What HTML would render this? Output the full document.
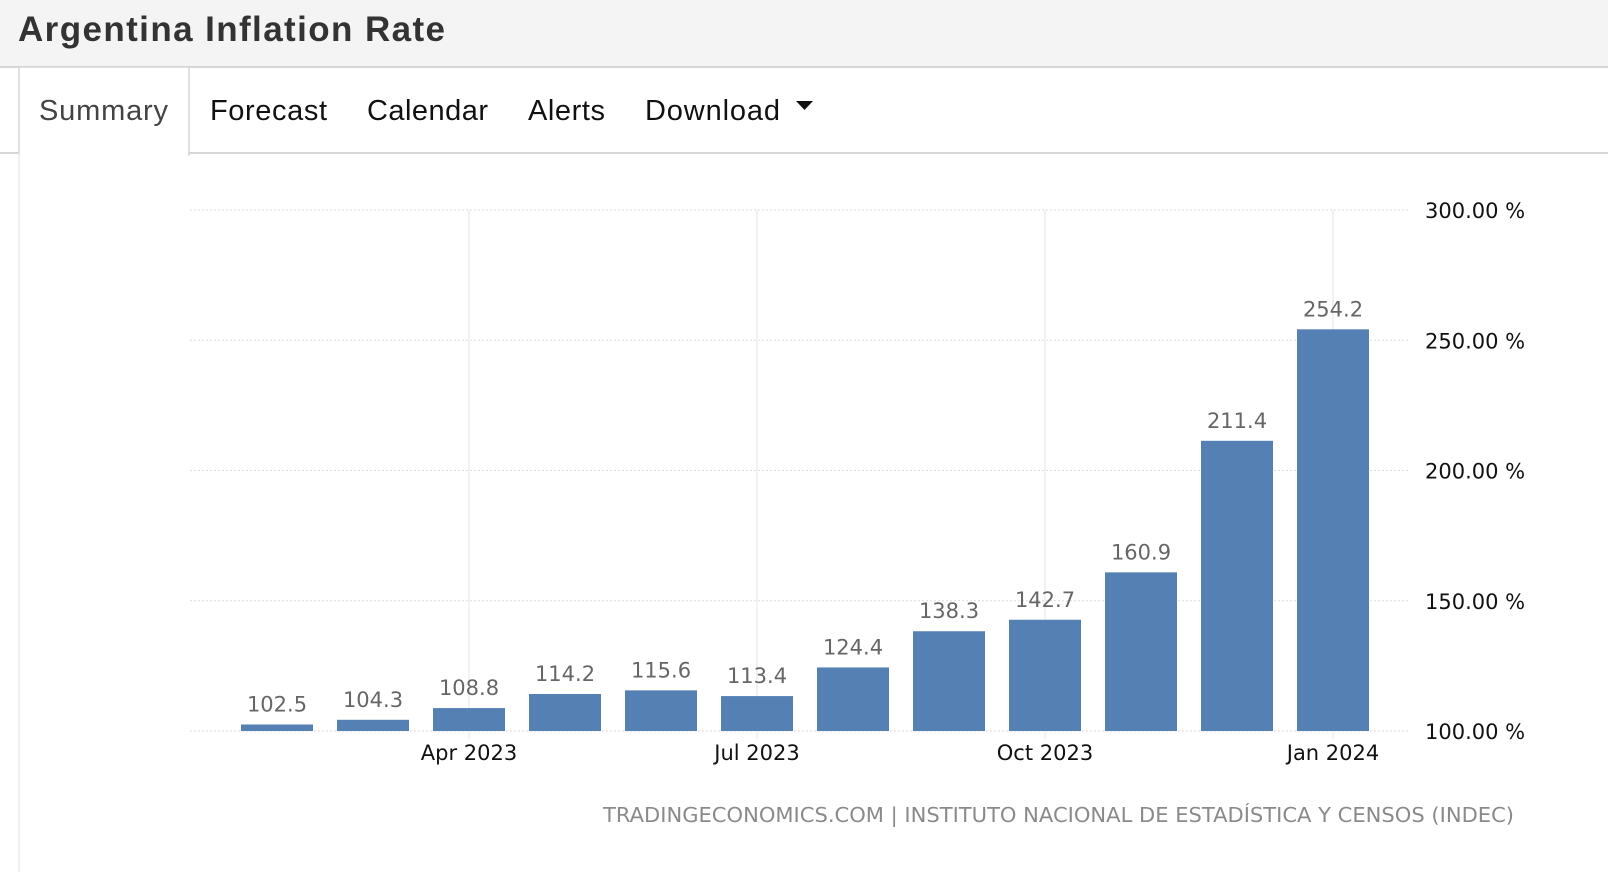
<!DOCTYPE html>
<html><head><meta charset="utf-8"><style>
html,body{margin:0;padding:0;width:1608px;height:872px;overflow:hidden;background:#fff;font-family:"Liberation Sans",sans-serif}
</style></head><body>
<svg width="1608" height="872" xmlns="http://www.w3.org/2000/svg">
<rect x="0" y="0" width="1608" height="67" fill="#f4f4f4"/>
<line x1="0" y1="67" x2="1608" y2="67" stroke="#d6d6d6" stroke-width="2"/>
<text x="18" y="41" font-family="Liberation Sans" font-weight="bold" font-size="35" fill="#333" textLength="427">Argentina Inflation Rate</text>
<line x1="0" y1="153" x2="1608" y2="153" stroke="#d6d6d6" stroke-width="2"/>
<rect x="19" y="67" width="170" height="88" fill="#fff" stroke="#d6d6d6" stroke-width="1.5"/>
<rect x="20" y="150" width="168" height="8" fill="#fff"/>
<line x1="19" y1="153" x2="19" y2="872" stroke="#ececec" stroke-width="1.5"/>
<g font-family="Liberation Sans" font-size="29">
<text x="39" y="120" fill="#444" textLength="129">Summary</text>
<text x="210" y="120" fill="#111" textLength="117">Forecast</text>
<text x="367" y="120" fill="#111" textLength="121">Calendar</text>
<text x="528" y="120" fill="#111" textLength="77">Alerts</text>
<text x="645" y="120" fill="#111" textLength="135">Download</text>
</g>
<polygon points="796,101 813,101 804.5,110" fill="#111"/>
<g id="chart"></g>
<text x="1514" y="822" text-anchor="end" font-family="DejaVu Sans" font-size="20" fill="#8a8a8a" textLength="911" lengthAdjust="spacingAndGlyphs">TRADINGECONOMICS.COM | INSTITUTO NACIONAL DE ESTADÍSTICA Y CENSOS (INDEC)</text>
</svg>
<script>
const categories=["Feb 2023","Mar 2023","Apr 2023","May 2023","Jun 2023","Jul 2023","Aug 2023","Sep 2023","Oct 2023","Nov 2023","Dec 2023","Jan 2024"];
const values=[102.5,104.3,108.8,114.2,115.6,113.4,124.4,138.3,142.7,160.9,211.4,254.2];
const yTicks=[100,150,200,250,300];
const xTickLabels={"Apr 2023":"Apr 2023","Jul 2023":"Jul 2023","Oct 2023":"Oct 2023","Jan 2024":"Jan 2024"};
const NS="http://www.w3.org/2000/svg";
const g=document.getElementById('chart');
const left=190,right=1410,yBase=731,yTop=210,vMin=100,vMax=300;
const x0=277,x1=1333,barW=72;
function y(v){return yBase-(v-vMin)/(vMax-vMin)*(yBase-yTop);}
function x(i){return x0+i*(x1-x0)/(categories.length-1);}
function mk(t,a){const e=document.createElementNS(NS,t);for(const k in a)e.setAttribute(k,a[k]);g.appendChild(e);return e;}
categories.forEach((c,i)=>{if(xTickLabels[c]){
 const l=mk('line',{x1:x(i),x2:x(i),y1:yTop,y2:yBase+8,stroke:'#e6e6e6','stroke-width':1});
 
 
 const t=mk('text',{x:x(i),y:760,'text-anchor':'middle','font-family':'DejaVu Sans','font-size':21,fill:'#111'});
 t.textContent=xTickLabels[c];
 
 
}});
yTicks.forEach(v=>{
 const l=mk('line',{x1:left,x2:right,y1:y(v),y2:y(v),stroke:'#dcdcdc','stroke-width':1,'stroke-dasharray':'2,2'});
 
 
 const t=mk('text',{x:1425,y:y(v)+8,'font-family':'DejaVu Sans','font-size':21,fill:'#111'});
 t.textContent=v.toFixed(2)+' %';
 
 
});
values.forEach((v,i)=>{
 const r=mk('rect',{x:x(i)-barW/2,y:y(v),width:barW,height:yBase-y(v),fill:'#5580b3'});
 
 
 const t=mk('text',{x:x(i),y:y(v)-13,'text-anchor':'middle','font-family':'DejaVu Sans','font-size':21,fill:'#666'});
 t.textContent=v.toFixed(1);
 
 
});
</script>
</body></html>
